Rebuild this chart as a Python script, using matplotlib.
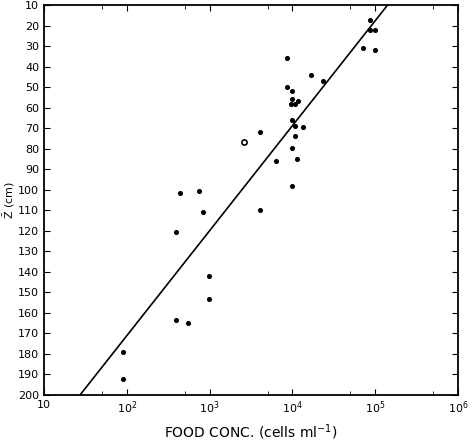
import numpy as np
import matplotlib.pyplot as plt

# log10 food conc and depth Z (cm)
log_food = [4.94, 4.94, 5.0, 4.85, 5.0, 3.94, 4.23, 4.37, 3.94, 4.0, 4.0, 4.07,
            3.98, 4.03, 4.0, 4.03, 4.13, 4.03, 3.61, 4.0, 4.05, 3.8, 4.0, 2.64,
            2.87, 2.92, 3.61, 2.60, 2.99, 2.99, 2.60, 2.74, 1.95, 1.95]
depth = [17.5, 22, 22, 31, 32, 36, 44, 47, 50, 52, 56, 57,
         58, 58, 66, 69, 69.5, 74, 72, 79.5, 85, 86, 98, 101.6,
         100.6, 110.8, 110, 120.6, 142, 153, 163.4, 165, 179, 192]
open_log = [3.41]
open_depth = [76.7]
line_log = [1.435, 5.15]
line_depth = [200, 10]

food = 10 ** np.array(log_food)

fig = plt.figure(figsize=(4.74, 4.46), dpi=100)
ax = fig.add_axes([44/474, 1 - 395/446, 414/474, 390/446])
ax.scatter(food, depth, s=7, color='black', zorder=3)
ax.scatter(10 ** np.array(open_log), open_depth, s=14, facecolor='white',
           edgecolor='black', linewidth=1.2, zorder=3)
ax.plot(10 ** np.array(line_log), line_depth, color='black', lw=1.2)

ax.set_xscale('log')
ax.set_xlim(10, 1e6)
ax.set_ylim(200, 10)
ax.set_yticks(np.arange(10, 201, 10))
ax.set_xticks([10, 1e2, 1e3, 1e4, 1e5, 1e6])
ax.set_xticklabels(['10', '$10^2$', '$10^3$', '$10^4$', '$10^5$', '$10^6$'])
ax.tick_params(direction='in', length=4, labelsize=8, top=True, right=True)
ax.tick_params(which='minor', length=0)
ax.set_xticks([10 ** 1.7 * 10 ** k for k in range(5)], minor=True)
ax.tick_params(which='minor', direction='in', length=3, top=True)
for s in ax.spines.values():
    s.set_linewidth(1.3)
ax.set_xlabel('FOOD CONC. (cells ml$^{-1}$)', fontsize=10)
ax.set_ylabel(r'$\bar{\mathrm{Z}}$ (cm)', fontsize=8, labelpad=1)

fig.savefig('out.png', dpi=100)
